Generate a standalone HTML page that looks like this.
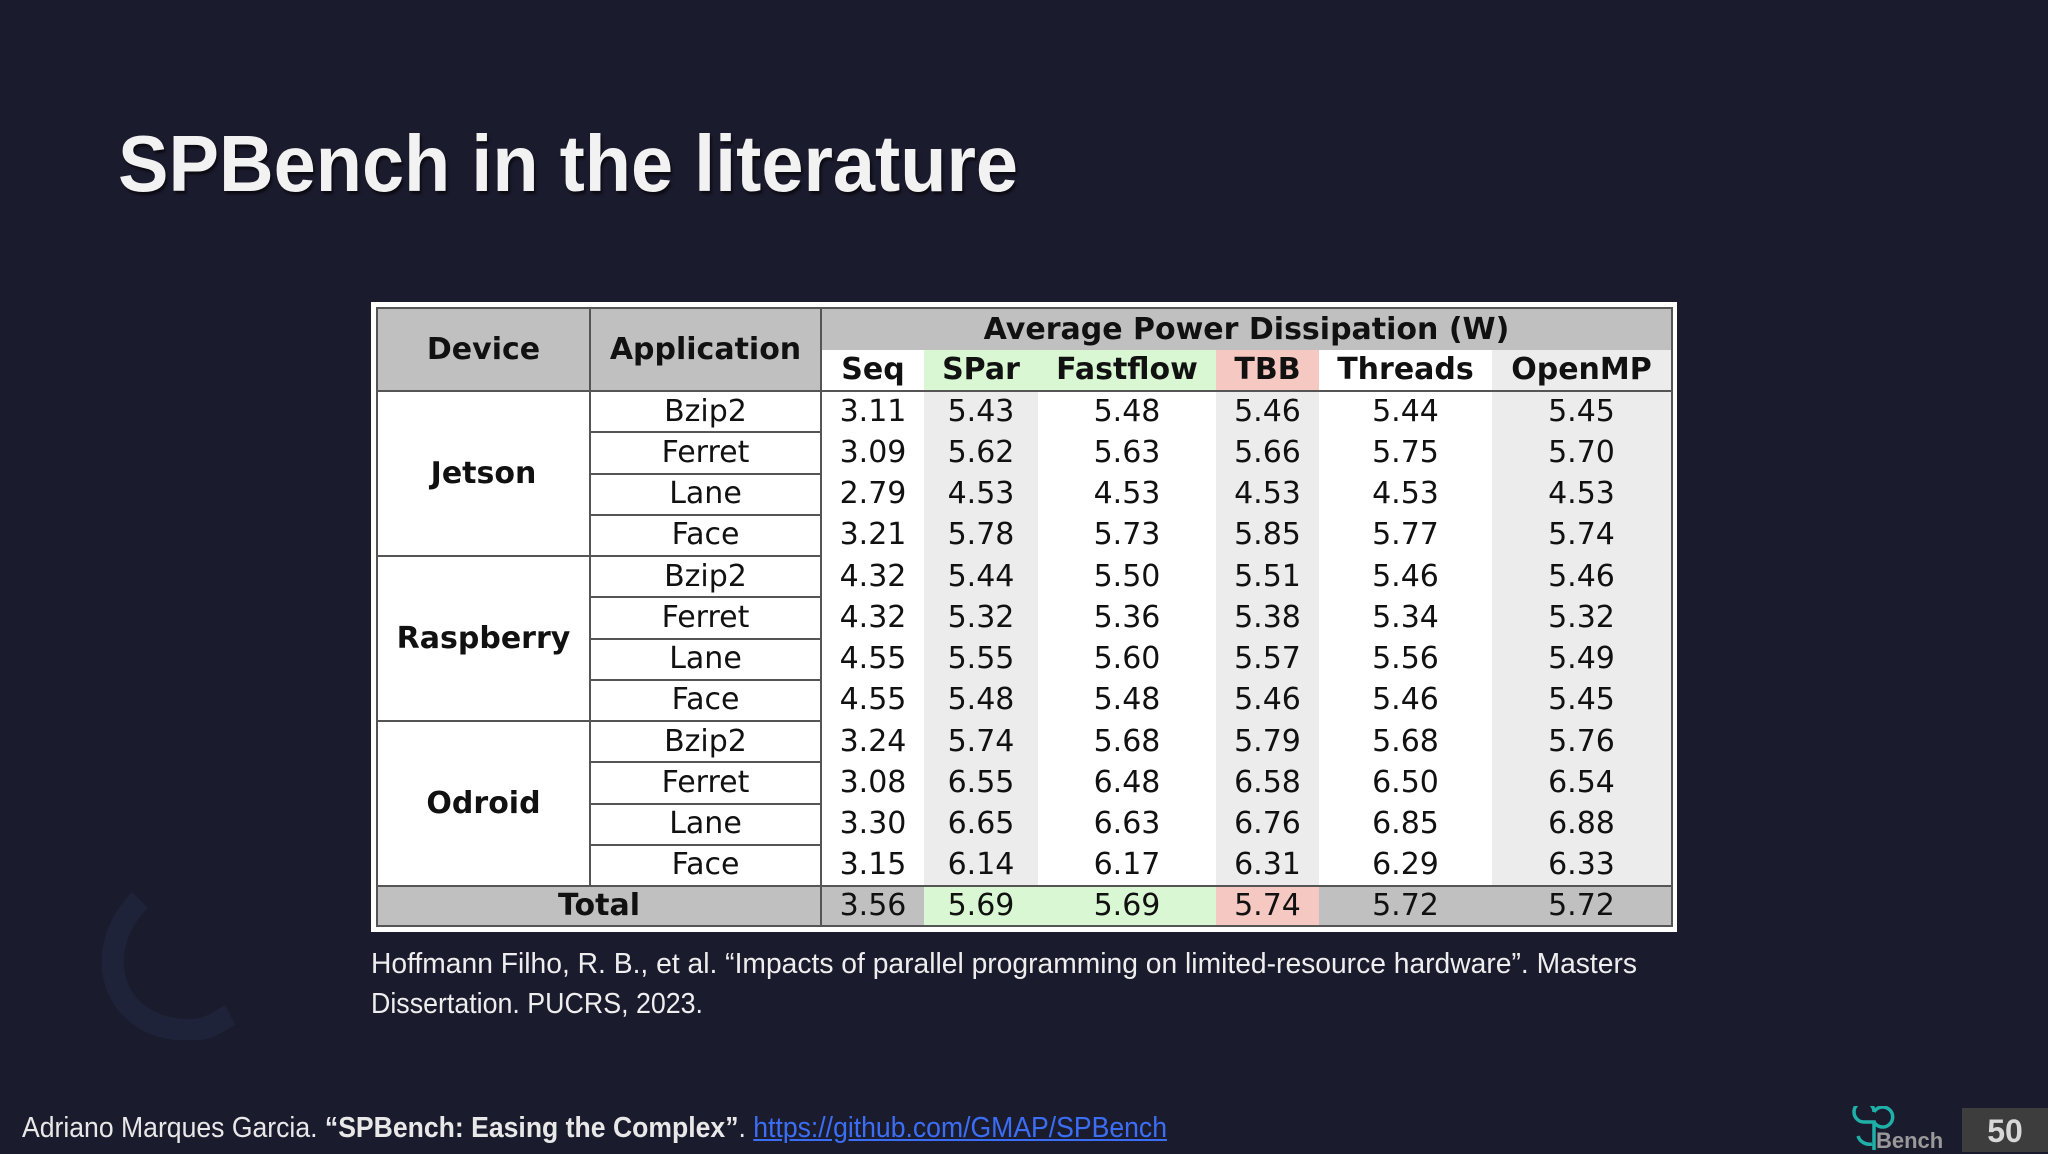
<!DOCTYPE html>
<html><head><meta charset="utf-8">
<style>
html,body{margin:0;padding:0;}
body{width:2048px;height:1152px;background:#1b1b2e;position:relative;overflow:hidden;font-family:"Liberation Sans","DejaVu Sans",sans-serif;}
.fit{position:absolute;white-space:nowrap;transform-origin:0 0;}
#title{left:118px;top:118px;font-size:80px;font-weight:bold;color:#f2f2f2;text-shadow:2px 3px 3px rgba(0,0,0,.6);}
#tbox{position:absolute;left:371px;top:302px;width:1306px;height:630px;background:#fff;}
table{position:absolute;left:5px;top:5px;border-collapse:collapse;table-layout:fixed;font-family:"DejaVu Sans","Liberation Sans",sans-serif;font-size:30px;color:#111;}
td{padding:0;text-align:center;vertical-align:middle;line-height:1;overflow:hidden;white-space:nowrap;}
.h{background:#c0c0c0;font-weight:bold;}
.hv{background:#c0c0c0;}
.b{font-weight:bold;}
.g{background:#ececec;}
.gr{background:#d8f7d2;}
.pk{background:#f5c8c2;}
.w{background:#fff;}
.bl{border-left:2px solid #555;}
.bt{border-top:2px solid #555;}
.bb{border-bottom:2px solid #555;}
.cite{left:371px;font-size:29px;color:#eeeeee;}
#foot{left:22px;top:1112px;font-size:29px;color:#e8e8e8;}
#foot a{color:#3b6ef5;text-decoration:underline;}
#pg{position:absolute;left:1962px;top:1108px;width:86px;height:44px;background:#3d3d3d;color:#d8d8d8;font-weight:bold;font-size:32px;text-align:center;line-height:46px;}
#logo{position:absolute;left:1852px;top:1106px;}
</style></head>
<body>
<svg style="position:absolute;left:80px;top:880px" width="180" height="160"><path d="M60,20 C10,70 30,150 110,150 C130,150 140,140 150,135" stroke="#232a42" stroke-width="22" fill="none" opacity=".6"/></svg>
<div id="title" class="fit" data-w="900">SPBench in the literature</div>
<div id="tbox">
<table id="tbl">
<colgroup><col style="width:213px"><col style="width:231px"><col style="width:103px"><col style="width:114px"><col style="width:178px"><col style="width:103px"><col style="width:173px"><col style="width:180px"></colgroup>
<tr style="height:42px"><td rowspan="2" class="h bb">Device</td><td rowspan="2" class="h bl bb">Application</td><td colspan="6" class="h bl">Average Power Dissipation (W)</td></tr>
<tr style="height:41px" id="subhdr"></tr>
</table>
</div>
<div class="fit cite" style="top:948px" data-w="1266">Hoffmann Filho, R. B., et al. “Impacts of parallel programming on limited-resource hardware”. Masters</div>
<div class="fit cite" style="top:988px" data-w="332">Dissertation. PUCRS, 2023.</div>
<div id="foot" class="fit" data-w="1145">Adriano Marques Garcia. <b>“SPBench: Easing the Complex”</b>. <a href="#">https://github.com/GMAP/SPBench</a></div>
<svg id="logo" width="90" height="46"><path d="M22,6 a10,10 0 1 0 -10,10 h10 v28 M22,16 a10,10 0 1 0 0,-10 M6,30 a12,12 0 0 0 14,8" stroke="#1fb0a8" stroke-width="3.5" fill="none"/><text x="24" y="42" font-size="22" font-weight="bold" fill="#999" font-family="Liberation Sans,sans-serif">Bench</text></svg>
<div id="pg">50</div>
<script>
const methods=["Seq","SPar","Fastflow","TBB","Threads","OpenMP"];
const hdrCls=["w","gr","gr","pk","w","g"];
const colCls=["w","g","w","g","w","g"];
const totCls=["hv","gr","gr","pk","hv","hv"];
const devices=["Jetson","Raspberry","Odroid"];
const apps=["Bzip2","Ferret","Lane","Face"];
const vals=[
["3.11","5.43","5.48","5.46","5.44","5.45"],
["3.09","5.62","5.63","5.66","5.75","5.70"],
["2.79","4.53","4.53","4.53","4.53","4.53"],
["3.21","5.78","5.73","5.85","5.77","5.74"],
["4.32","5.44","5.50","5.51","5.46","5.46"],
["4.32","5.32","5.36","5.38","5.34","5.32"],
["4.55","5.55","5.60","5.57","5.56","5.49"],
["4.55","5.48","5.48","5.46","5.46","5.45"],
["3.24","5.74","5.68","5.79","5.68","5.76"],
["3.08","6.55","6.48","6.58","6.50","6.54"],
["3.30","6.65","6.63","6.76","6.85","6.88"],
["3.15","6.14","6.17","6.31","6.29","6.33"]];
const totals=["3.56","5.69","5.69","5.74","5.72","5.72"];
const sub=document.getElementById('subhdr');
methods.forEach((m,i)=>{const td=document.createElement('td');td.className='b '+hdrCls[i]+(i==0?' bl bb':' bb');td.textContent=m;


sub.appendChild(td);});
const tb=document.getElementById('tbl');
vals.forEach((row,r)=>{const tr=document.createElement('tr');tr.style.height='41.25px';
if(r%4==0){const d=document.createElement('td');d.rowSpan=4;d.className='b w bb';d.textContent=devices[r/4];


tr.appendChild(d);}
const a=document.createElement('td');a.className='w bl bb';a.textContent=apps[r%4];


tr.appendChild(a);
row.forEach((v,i)=>{const c=document.createElement('td');c.className=colCls[i]+(i==0?' bl':'');c.textContent=v;


tr.appendChild(c);});
tb.appendChild(tr);});
const tt=document.createElement('tr');tt.style.height='40px';
const tl=document.createElement('td');tl.colSpan=2;tl.className='h bt';tl.textContent='Total';


tt.appendChild(tl);
totals.forEach((v,i)=>{const c=document.createElement('td');c.className=totCls[i]+' bt'+(i==0?' bl':'');c.textContent=v;


tt.appendChild(c);});
tb.appendChild(tt);
tb.style.border='2px solid #555';
document.querySelectorAll('.fit').forEach(e=>{const w=+e.dataset.w;const cw=e.getBoundingClientRect().width;if(w&&cw)e.style.transform='scaleX('+(w/cw)+')';});
</script>
</body></html>
